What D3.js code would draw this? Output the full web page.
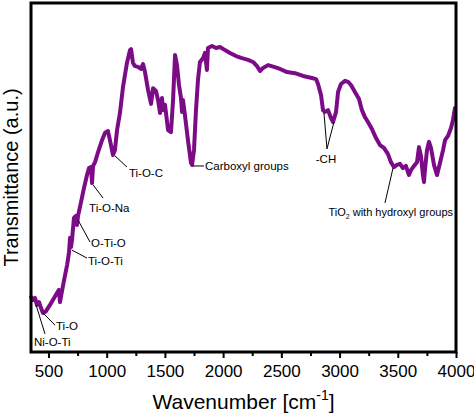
<!DOCTYPE html>
<html>
<head>
<meta charset="utf-8">
<script src="https://cdn.jsdelivr.net/npm/d3@7/dist/d3.min.js"></script>
<style>
  body { margin: 0; background: #fff; }
  svg { display: block; font-family: "Liberation Sans", Arial, sans-serif; }
</style>
</head>
<body>
<div id="chart"></div>
<script>
// FTIR spectrum

const wavenumber = [
  350, 367, 384, 401, 419, 436, 453, 479, 513, 548, 573, 590, 599, 608, 634, 660, 677, 685, 694, 702,
  719, 736, 745, 754, 780, 805, 831, 848, 865, 874, 883, 900, 926, 960, 986, 1011, 1028, 1054, 1071, 1089,
  1114, 1140, 1174, 1200, 1209, 1226, 1243, 1269, 1294, 1312, 1329, 1355, 1381, 1398, 1423, 1441, 1458, 1475, 1484, 1501,
  1527, 1552, 1570, 1587, 1604, 1621, 1638, 1647, 1655, 1672, 1698, 1724, 1733, 1750, 1767, 1784, 1801, 1827, 1844, 1861,
  1870, 1904, 1939, 1973, 2016, 2059, 2111, 2162, 2214, 2257, 2291, 2317, 2343, 2386, 2437, 2489, 2549, 2617, 2686, 2763,
  2798, 2815, 2841, 2858, 2875, 2901, 2927, 2944, 2970, 2987, 3012, 3047, 3073, 3098, 3132, 3167, 3192, 3218, 3244, 3278,
  3313, 3347, 3381, 3416, 3441, 3467, 3493, 3519, 3544, 3570, 3596, 3613, 3639, 3665, 3682, 3699, 3716, 3725, 3733, 3751,
  3768, 3785, 3811, 3837, 3863, 3889, 3906, 3931, 3957, 3974, 3991
];

const transmittance = [
  15.8, 14.9, 15.5, 13.5, 14.3, 12.6, 11.2, 11.7, 13.5, 15.5, 16.9, 17.8, 14.3, 16.0, 20.6, 24.9, 28.7, 32.7, 30.1, 32.1,
  38.4, 39.0, 36.4, 39.0, 43.0, 47.0, 50.7, 52.7, 53.0, 48.4, 53.3, 54.4, 57.3, 60.7, 62.8, 63.3, 60.7, 56.4, 57.9, 63.6,
  68.5, 75.9, 82.8, 86.5, 86.8, 82.8, 81.9, 81.7, 81.1, 82.5, 80.2, 75.1, 71.1, 75.6, 74.8, 72.2, 68.5, 72.8, 69.3, 70.8,
  63.6, 63.0, 72.2, 85.1, 82.2, 76.5, 72.8, 68.8, 72.2, 67.9, 60.7, 54.2, 53.6, 57.9, 69.3, 77.9, 83.1, 84.2, 85.7, 80.8,
  87.1, 87.7, 87.1, 87.4, 86.5, 85.7, 84.8, 84.2, 83.7, 83.1, 81.9, 80.5, 81.4, 82.2, 81.7, 81.1, 80.2, 79.9, 79.1, 78.5,
  78.2, 76.8, 73.6, 69.3, 68.8, 69.3, 67.0, 65.9, 68.8, 74.5, 76.8, 77.7, 77.4, 76.5, 74.5, 72.5, 69.3, 67.3, 65.9, 63.9,
  61.3, 59.3, 58.5, 56.7, 54.4, 53.0, 53.6, 53.9, 52.7, 53.3, 50.7, 52.1, 53.3, 54.4, 58.7, 56.2, 50.7, 48.7, 52.1, 57.9,
  60.2, 58.5, 53.6, 50.7, 54.2, 57.9, 60.7, 61.9, 64.2, 66.5, 69.9
];

const majorTicks = [500, 1000, 1500, 2000, 2500, 3000, 3500, 4000];
const minorTicks = [750, 1250, 1750, 2250, 2750, 3250, 3750];

// band labels: leader from curve point `from` to `to`, text placed by offset from `to`
const bandLabels = ["Ti-O", "Ni-O-Ti", "Ti-O-Ti", "O-Ti-O", "Ti-O-Na", "Ti-O-C", "Carboxyl groups"];
const bandFrom = [[453, 11.2], [393, 13.5], [702, 29.2], [754, 37.8], [883, 47.9], [1071, 56.2], [1741, 53.3]];
const bandTo = [[556, 7.7], [470, 5.2], [831, 26.9], [857, 31.5], [969, 44.1], [1174, 53.0], [1836, 53.3]];

const margin = [3, 18, 62, 31]; // top right bottom left
const width = 474, height = 414;
const innerW = width - margin[1] - margin[3];
const innerH = height - margin[0] - margin[2];

const data = wavenumber.map((w, i) => ({ w, t: transmittance[i] }));

const x = d3.scaleLinear().domain([350, 4000]).range([0, innerW]);
const y = d3.scaleLinear().domain([0, 100]).range([innerH, 0]);

const svg = d3.select('#chart')
  .append('svg')
  .attr('width', width)
  .attr('height', height);

const chart = svg.append('g')
  .attr('transform', `translate(${margin[3]}, ${margin[0]})`);

// Axes
const xAxis = chart.append('g')
  .attr('transform', `translate(0, ${innerH})`)
  .call(d3.axisBottom(x).tickValues(majorTicks).tickSize(6).tickPadding(7).tickFormat(d3.format('d')));
xAxis.select('.domain').remove();
xAxis.selectAll('line').attr('stroke', '#000').attr('stroke-width', 2);
xAxis.selectAll('text')
  .style('font-size', '17px')
  .attr('fill', '#000');

const xMinor = chart.append('g')
  .attr('transform', `translate(0, ${innerH})`)
  .call(d3.axisBottom(x).tickValues(minorTicks).tickSize(4).tickFormat(''));
xMinor.select('.domain').remove();
xMinor.selectAll('line').attr('stroke', '#000').attr('stroke-width', 2);

// Spectrum
const line = d3.line()
  .x(d => x(d.w))
  .y(d => y(d.t));

chart.append('path')
  .datum(data)
  .attr('fill', 'none')
  .attr('stroke', '#7c0b87')
  .attr('stroke-width', 4)
  .attr('stroke-linejoin', 'round')
  .attr('stroke-linecap', 'round')
  .attr('d', line);

// Frame
chart.append('rect')
  .attr('width', innerW)
  .attr('height', innerH)
  .attr('fill', 'none')
  .attr('stroke', '#000')
  .attr('stroke-width', 3);

// Annotations
const labelOffsets = [[1, 5], [-11, 12], [1, 7], [1, 5], [-14, 14], [2, 10], [1, 4]];
const ann = chart.append('g').style('font-size', '11.5px');

bandLabels.forEach((label, i) => {
  const [w0, t0] = bandFrom[i];
  const [w1, t1] = bandTo[i];
  ann.append('line')
    .attr('x1', x(w0)).attr('y1', y(t0))
    .attr('x2', x(w1)).attr('y2', y(t1))
    .attr('stroke', '#000').attr('stroke-width', 1);
  ann.append('text')
    .attr('x', x(w1) + labelOffsets[i][0])
    .attr('y', y(t1) + labelOffsets[i][1])
    .text(label);
});

// -CH: two leaders meet below the doublet
const chFrom = [[2866, 68.5], [2952, 65.9]];
const chTo = [2892, 58.2];
chFrom.forEach(([w, t]) => {
  ann.append('line')
    .attr('x1', x(w)).attr('y1', y(t))
    .attr('x2', x(chTo[0])).attr('y2', y(chTo[1]))
    .attr('stroke', '#000').attr('stroke-width', 1);
});
ann.append('text')
  .attr('x', x(chTo[0]) - 1)
  .attr('y', y(chTo[1]) + 14)
  .attr('text-anchor', 'middle')
  .text('-CH');

// TiO2 with hydroxyl groups
ann.append('line')
  .attr('x1', x(3459)).attr('y1', y(52.7))
  .attr('x2', x(3390)).attr('y2', y(42.7))
  .attr('stroke', '#000').attr('stroke-width', 1);
const tio2 = ann.append('text')
  .attr('x', innerW - 3)
  .attr('y', y(42.7) + 13)
  .attr('text-anchor', 'end')
  .style('font-size', '11px');
tio2.append('tspan').text('TiO');
tio2.append('tspan').attr('font-size', '7px').attr('dy', 3).text('2');
tio2.append('tspan').attr('dy', -3).text(' with hydroxyl groups');

// Axis titles
const xTitle = svg.append('text')
  .attr('x', margin[3] + innerW / 2)
  .attr('y', 409)
  .attr('text-anchor', 'middle')
  .style('font-size', '21px')
  .text('Wavenumber [cm');
xTitle.append('tspan').attr('font-size', '14px').attr('dy', -9).text('-1');
xTitle.append('tspan').attr('dy', 9).text(']');

svg.append('text')
  .attr('transform', `translate(18, ${margin[0] + innerH / 2}) rotate(-90)`)
  .attr('text-anchor', 'middle')
  .style('font-size', '20px')
  .text('Transmittance (a.u.)');
</script>
</body>
</html>
